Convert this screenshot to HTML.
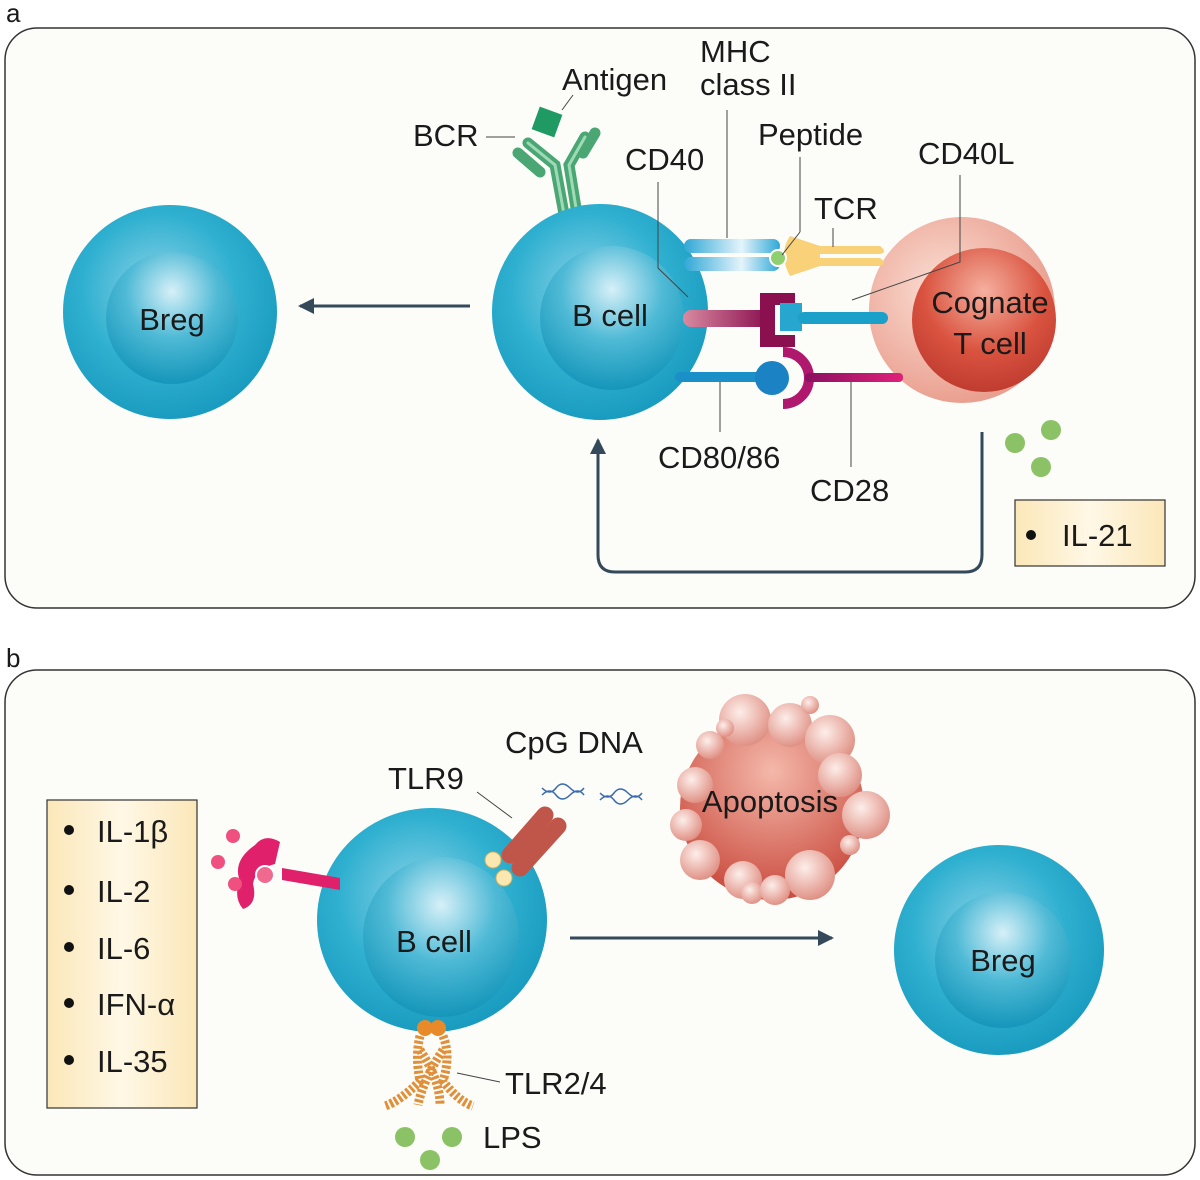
<!DOCTYPE html>
<html><head><meta charset="utf-8"><style>
html,body{margin:0;padding:0;background:#fff}
svg{display:block}
text{font-family:"Liberation Sans",sans-serif;fill:#1a1a1a}
</style></head><body>
<svg width="1200" height="1180" viewBox="0 0 1200 1180" xmlns="http://www.w3.org/2000/svg">
<defs>
<radialGradient id="bo" cx="0.45" cy="0.4" r="0.6"><stop offset="0" stop-color="#8fd3e8"/><stop offset="0.6" stop-color="#2fb0d0"/><stop offset="1" stop-color="#1a9cc0"/></radialGradient>
<radialGradient id="bi" cx="0.5" cy="0.3" r="0.7"><stop offset="0" stop-color="#d6f0f8"/><stop offset="0.5" stop-color="#4fbad6"/><stop offset="1" stop-color="#1596ba"/></radialGradient>
<radialGradient id="to" cx="0.4" cy="0.4" r="0.6"><stop offset="0" stop-color="#fbe0d6"/><stop offset="1" stop-color="#eaa090"/></radialGradient>
<radialGradient id="ti" cx="0.5" cy="0.3" r="0.7"><stop offset="0" stop-color="#f6b0a0"/><stop offset="0.6" stop-color="#d9533f"/><stop offset="1" stop-color="#c03c30"/></radialGradient>
<radialGradient id="bub" cx="0.4" cy="0.35" r="0.65"><stop offset="0" stop-color="#fdeeea"/><stop offset="1" stop-color="#e09286"/></radialGradient>
<radialGradient id="apo" cx="0.5" cy="0.3" r="0.7"><stop offset="0" stop-color="#f4b8aa"/><stop offset="1" stop-color="#c94b3e"/></radialGradient>
<linearGradient id="box" x1="0" y1="0" x2="1" y2="0"><stop offset="0" stop-color="#fbe7b8"/><stop offset="0.5" stop-color="#fff8e6"/><stop offset="1" stop-color="#fbe7b8"/></linearGradient>
<linearGradient id="mhc" x1="0" x2="1"><stop offset="0" stop-color="#2fa8d6"/><stop offset="0.6" stop-color="#e4f4fb"/><stop offset="1" stop-color="#2fa8d6"/></linearGradient>
<linearGradient id="cd40" x1="0" x2="1"><stop offset="0" stop-color="#d98aa0"/><stop offset="1" stop-color="#8a1050"/></linearGradient>
<linearGradient id="cd28" x1="0" x2="1"><stop offset="0" stop-color="#8a1060"/><stop offset="1" stop-color="#e0207a"/></linearGradient>
<marker id="ar" markerWidth="20" markerHeight="20" refX="14" refY="8" orient="auto" markerUnits="userSpaceOnUse"><path d="M0,0 L16,8 L0,16 Z" fill="#34495a"/></marker>
</defs>

<text x="6" y="22" font-size="26">a</text>
<rect x="5" y="28" width="1190" height="580" rx="32" fill="#fcfcf9" stroke="#333" stroke-width="1.5"/>
<text x="6" y="667" font-size="26">b</text>
<rect x="5" y="670" width="1190" height="505" rx="32" fill="#fcfcf9" stroke="#333" stroke-width="1.5"/>

<g font-size="31">
<!-- Breg a -->
<circle cx="170" cy="312" r="107" fill="url(#bo)"/>
<circle cx="172" cy="318" r="66" fill="url(#bi)"/>
<text x="172" y="330" text-anchor="middle">Breg</text>
<line x1="470" y1="306" x2="300" y2="306" stroke="#34495a" stroke-width="3" marker-end="url(#ar)"/>

<!-- BCR -->
<g stroke="#4aa673" stroke-width="11" stroke-linecap="round" fill="none">
<path d="M564,214 L555,165 L528,143"/><path d="M577,214 L569,165 L585,137"/>
<line x1="518" y1="153" x2="540" y2="172"/><line x1="595" y1="133" x2="583" y2="153"/>
</g>
<g stroke="#9fdab8" stroke-width="3" stroke-linecap="round" fill="none">
<path d="M564,214 L555,165 L528,143"/><path d="M577,214 L569,165 L585,137"/>
</g>
<rect x="535" y="110" width="24" height="24" fill="#1e9a62" transform="rotate(20 547 122)"/>
<line x1="486" y1="137" x2="515" y2="137" stroke="#444" stroke-width="1"/>
<line x1="562" y1="110" x2="573" y2="95" stroke="#444" stroke-width="1"/>
<text x="413" y="146">BCR</text>
<text x="562" y="90">Antigen</text>
<text x="700" y="62">MHC</text>
<text x="700" y="95">class II</text>

<!-- B cell a -->
<circle cx="600" cy="312" r="108" fill="url(#bo)"/>
<circle cx="612" cy="318" r="72" fill="url(#bi)"/>
<text x="610" y="326" text-anchor="middle">B cell</text>

<!-- T cell -->
<circle cx="962" cy="310" r="93" fill="url(#to)"/>
<circle cx="984" cy="320" r="72" fill="url(#ti)"/>
<text x="990" y="313" text-anchor="middle">Cognate</text>
<text x="990" y="354" text-anchor="middle">T cell</text>

<!-- MHC / TCR -->
<rect x="684" y="239" width="96" height="14" rx="7" fill="url(#mhc)"/>
<rect x="684" y="257" width="96" height="14" rx="7" fill="url(#mhc)"/>
<path d="M790,236 q-12,18 0,40 l30,-10 h60 q8,-2 0,-8 h-60 l0,-4 h60 q8,-2 0,-8 h-60 z" fill="#f8d178"/>
<circle cx="778" cy="258" r="8" fill="#8fcf70" stroke="#fff" stroke-width="2"/>
<line x1="727" y1="110" x2="727" y2="238" stroke="#444" stroke-width="1"/>
<line x1="800" y1="157" x2="800" y2="232" stroke="#444" stroke-width="1"/>
<line x1="800" y1="232" x2="782" y2="255" stroke="#444" stroke-width="1"/>
<line x1="833" y1="228" x2="833" y2="247" stroke="#444" stroke-width="1"/>
<text x="758" y="145">Peptide</text>
<text x="814" y="219">TCR</text>
<text x="625" y="170">CD40</text>
<text x="918" y="164">CD40L</text>

<!-- CD40/CD40L -->
<rect x="683" y="310" width="85" height="17" rx="8" fill="url(#cd40)"/>
<path d="M760,293 h35 v12 h-20 v30 h20 v12 h-35 z" fill="#8a1050"/>
<rect x="780" y="303" width="22" height="28" fill="#27a6cf"/>
<rect x="798" y="312" width="90" height="12" rx="6" fill="#1ba0c9"/>
<polyline points="658,182 658,268 688,297" fill="none" stroke="#444" stroke-width="1"/>
<polyline points="852,300 960,262 960,175" fill="none" stroke="#444" stroke-width="1"/>

<!-- CD80/86 / CD28 -->
<rect x="675" y="372" width="90" height="10" rx="5" fill="#1b8fc8"/>
<circle cx="772" cy="378" r="17" fill="#1b82c4"/>
<path d="M783,352 a26,26 0 0 1 0,52" fill="none" stroke="#b0186e" stroke-width="10"/>
<rect x="805" y="373" width="98" height="9" rx="4" fill="url(#cd28)"/>
<line x1="720" y1="382" x2="720" y2="432" stroke="#444" stroke-width="1"/>
<line x1="851" y1="382" x2="851" y2="467" stroke="#444" stroke-width="1"/>
<text x="658" y="468">CD80/86</text>
<text x="810" y="501">CD28</text>

<!-- feedback arrow -->
<path d="M982,432 V555 q0,17 -17,17 H615 q-17,0 -17,-17 V440" fill="none" stroke="#34495a" stroke-width="3" marker-end="url(#ar)"/>
<circle cx="1015" cy="443" r="10" fill="#8cc266"/><circle cx="1051" cy="430" r="10" fill="#8cc266"/><circle cx="1041" cy="467" r="10" fill="#8cc266"/>
<rect x="1015" y="500" width="150" height="66" fill="url(#box)" stroke="#333" stroke-width="1.2"/>
<circle cx="1031" cy="535" r="5" fill="#111"/>
<text x="1062" y="546">IL-21</text>

<!-- panel b -->
<rect x="47" y="800" width="150" height="308" fill="url(#box)" stroke="#333" stroke-width="1.2"/>
<circle cx="69" cy="830" r="5" fill="#111"/><text x="97" y="842">IL-1β</text>
<circle cx="69" cy="890" r="5" fill="#111"/><text x="97" y="902">IL-2</text>
<circle cx="69" cy="947" r="5" fill="#111"/><text x="97" y="959">IL-6</text>
<circle cx="69" cy="1003" r="5" fill="#111"/><text x="97" y="1015">IFN-α</text>
<circle cx="69" cy="1060" r="5" fill="#111"/><text x="97" y="1072">IL-35</text>

<!-- apoptosis -->
<circle cx="772" cy="808" r="92" fill="url(#apo)"/>
<g fill="url(#bub)">
<circle cx="745" cy="720" r="26"/><circle cx="790" cy="725" r="22"/><circle cx="710" cy="745" r="14"/><circle cx="830" cy="740" r="25"/><circle cx="810" cy="705" r="9"/>
<circle cx="840" cy="775" r="22"/><circle cx="695" cy="785" r="18"/><circle cx="686" cy="825" r="16"/><circle cx="866" cy="815" r="24"/>
<circle cx="700" cy="860" r="20"/><circle cx="850" cy="845" r="10"/><circle cx="743" cy="880" r="19"/><circle cx="810" cy="875" r="25"/>
<circle cx="752" cy="893" r="11"/><circle cx="775" cy="890" r="15"/><circle cx="725" cy="728" r="9"/>
</g>
<text x="770" y="812" text-anchor="middle">Apoptosis</text>
<text x="505" y="753">CpG DNA</text>
<text x="388" y="789">TLR9</text>
<path d="M542,795 q8,-8 14,0 t14,0 t14,0 M542,788 q8,8 14,0 t14,0 t14,0" fill="none" stroke="#3a6ab0" stroke-width="1.5"/>
<path d="M600,800 q8,-8 14,0 t14,0 t14,0 M600,793 q8,8 14,0 t14,0 t14,0" fill="none" stroke="#3a6ab0" stroke-width="1.5"/>

<!-- B cell b -->
<ellipse cx="432" cy="920" rx="115" ry="112" fill="url(#bo)"/>
<ellipse cx="441" cy="937" rx="78" ry="80" fill="url(#bi)"/>
<text x="434" y="952" text-anchor="middle">B cell</text>

<!-- TLR9 -->
<g stroke="#c0564a" stroke-width="17" stroke-linecap="round">
<line x1="510" y1="855" x2="545" y2="815"/><line x1="520" y1="868" x2="558" y2="826"/>
</g>
<circle cx="493" cy="860" r="8" fill="#fbe8b0" stroke="#d0b060"/><circle cx="504" cy="878" r="8" fill="#fbe8b0" stroke="#d0b060"/>
<line x1="477" y1="792" x2="512" y2="818" stroke="#444" stroke-width="1"/>

<!-- cytokine receptor -->
<path d="M340,878 L282,868 L282,880 L340,890 Z" fill="#e0206a"/>
<path d="M255,845 q10,-12 25,-3 l-5,22 q-20,5 -22,20 q5,20 -10,25 q-10,-12 -3,-28 q-8,-20 15,-36z" fill="#e0206a"/>
<circle cx="265" cy="875" r="9" fill="#f06a8f" stroke="#fff" stroke-width="2"/>
<circle cx="233" cy="836" r="7" fill="#f0507f"/><circle cx="218" cy="862" r="7" fill="#f0507f"/><circle cx="235" cy="884" r="7" fill="#f0507f"/>

<!-- TLR2/4 -->
<circle cx="425" cy="1028" r="8" fill="#e88a2a"/><circle cx="438" cy="1028" r="8" fill="#e88a2a"/>
<path d="M420,1036 q-5,20 0,45 q-20,20 -35,25 M443,1036 q8,20 0,45 q15,20 30,25 M420,1050 q20,30 20,55 M443,1050 q-20,30 -25,55" fill="none" stroke="#e0903a" stroke-width="9" stroke-dasharray="3 2"/>
<line x1="457" y1="1073" x2="500" y2="1082" stroke="#444" stroke-width="1"/>
<text x="505" y="1094">TLR2/4</text>
<circle cx="405" cy="1137" r="10" fill="#8cc266"/><circle cx="452" cy="1137" r="10" fill="#8cc266"/><circle cx="430" cy="1160" r="10" fill="#8cc266"/>
<text x="483" y="1148">LPS</text>

<line x1="570" y1="938" x2="832" y2="938" stroke="#34495a" stroke-width="3" marker-end="url(#ar)"/>

<!-- Breg b -->
<circle cx="999" cy="950" r="105" fill="url(#bo)"/>
<circle cx="1003" cy="960" r="68" fill="url(#bi)"/>
<text x="1003" y="971" text-anchor="middle">Breg</text>
</g>
</svg>
</body></html>
